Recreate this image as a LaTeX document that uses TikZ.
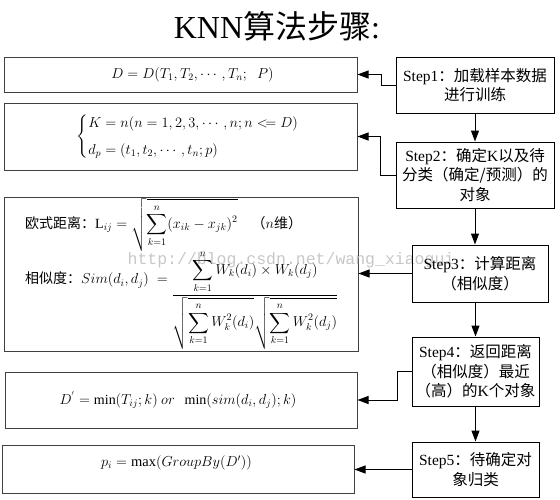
\documentclass[tikz,border=0pt]{standalone}
\usepackage{amsmath}
\usepackage{fontspec}
\setmainfont{Liberation Serif}
\setmonofont{Liberation Mono}
\newfontfamily\cjk{Noto Sans CJK SC}
\usetikzlibrary{arrows.meta}

\tikzset{
    formbox/.style={draw=black!75, line width=1pt, inner sep=0pt},
    stepbox/.style={draw, line width=1pt, inner sep=0pt, align=center,
        font=\cjk\fontsize{15.5}{19.5}\selectfont},
    formula/.style={inner sep=0pt, font=\fontsize{14}{17}\selectfont},
    arr/.style={line width=1pt, -{Triangle[length=11pt,width=8pt]}}
}

\begin{document}
\begin{tikzpicture}[x=1pt, y=-1pt]
    \useasboundingbox (0,0) rectangle (560,499);
    % title
    \node [font=\fontsize{32}{36}\selectfont] (title) at (277,26) {KNN{\cjk 算法步骤}:};
    % left column: formulas
    \node [formbox, minimum width=353pt, minimum height=35pt] (L1) at (180.5,74.5) {};
    \node [formbox, minimum width=353pt, minimum height=67pt] (L2) at (180.5,136.5) {};
    \node [formbox, minimum width=354pt, minimum height=154pt] (L3) at (181,274) {};
    \node [formbox, minimum width=352pt, minimum height=56pt] (L4) at (181,400) {};
    \node [formbox, minimum width=352pt, minimum height=48pt] (L5) at (178,469) {};
    \node [formula] (f1) at (192.5,75) {$D=D(T_1,T_2,\cdots,T_n;\;\; P)$};
    \node [formula] (f2) at (195,137) {$\begin{cases} K=n(n=1,2,3,\cdots,n;n\mathrel{<\!=}D)\\[6pt] d_p=(t_1,t_2,\cdots,t_n;p)\end{cases}$};
    \node [formula] (f4) at (178,400) {$D^{'}=\min(T_{ij};k)\ or\ \;\min(sim(d_i,d_j);k)$};
    \node [formula, font=\fontsize{14.5}{17}\selectfont] (f5) at (176.5,463) {$p_i=\max(GroupBy(D'))$};
    % watermark
    \node [text=black!22, font=\ttfamily\fontsize{16.5}{18}\selectfont] (mark) at (291,260) {http://blog.csdn.net/wang\_xiaogui};
    \node [formula, anchor=west] (f3a) at (25,225)
        {{\cjk 欧式距离：}$\mathrm{L}_{ij}=\sqrt{\displaystyle\sum_{k=1}^{n}(x_{ik}-x_{jk})^2}$\quad{\cjk （}$n${\cjk 维）}};
    \node [formula, anchor=west] (f3b) at (25,280)
        {{\cjk 相似度：}$Sim(d_i,d_j)\;=$};
    \node [formula] (f3c) at (255,300)
        {$\displaystyle\frac{\displaystyle\sum_{k=1}^{n}W_k(d_i)\times W_k(d_j)}{\sqrt{\displaystyle\sum_{k=1}^{n}W_k^2(d_i)}\sqrt{\displaystyle\sum_{k=1}^{n}W_k^2(d_j)}}$};
    % right column: steps
    \node [stepbox, minimum width=158pt, minimum height=56pt] (S1) at (475,85) {{\rmfamily Step1}：加载样本数据\\进行训练};
    \node [stepbox, minimum width=158pt, minimum height=66pt] (S2) at (475,175) {{\rmfamily Step2}：确定{\rmfamily K}以及待\\分类（确定/预测）的\\对象};
    \node [stepbox, minimum width=136pt, minimum height=57pt] (S3) at (480,273.5) {{\rmfamily Step3}：计算距离\\（相似度）};
    \node [stepbox, minimum width=127pt, minimum height=69pt] (S4) at (475.5,371.5) {{\rmfamily Step4}：返回距离\\（相似度）最近\\（高）的{\rmfamily K}个对象};
    \node [stepbox, minimum width=127pt, minimum height=55pt] (S5) at (475.5,469.5) {{\rmfamily Step5}：待确定对\\象归类};
    % arrows
    \draw [arr] (S1.south) -- (S1.south |- S2.north);
    \draw [arr] (S2.south) -- (S2.south |- S3.north);
    \draw [arr] (S4.north |- S3.south) -- (S4.north);
    \draw [arr] (S4.south) -- (S5.north);
    \draw [arr] (S1.west) -- ++(-14,0) |- (L1.east);
    \draw [arr] (S2.west) -- ++(-15,0) |- (L2.east);
    \draw [arr] (S3.west) -- (S3.west -| L3.east);
    \draw [arr] (S4.west) -- ++(-14,0) |- (L4.east);
    \draw [arr] (S5.west) -- (S5.west -| L5.east);
\end{tikzpicture}
\end{document}
